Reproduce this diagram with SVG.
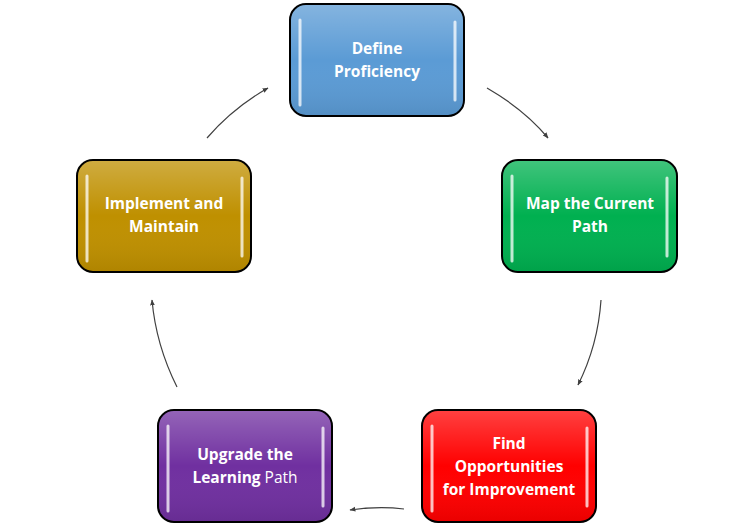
<svg xmlns="http://www.w3.org/2000/svg" width="755" height="531" viewBox="0 0 755 531">
<defs>
<marker id="ah" viewBox="0 0 10 10" refX="9" refY="5" markerWidth="5" markerHeight="5" orient="auto"><path d="M0,1 L10,5 L0,9 z" fill="#404040"/></marker>
<linearGradient id="sh" x1="0" y1="0" x2="0" y2="1"><stop offset="0" stop-color="#fff" stop-opacity="0.25"/><stop offset="0.5" stop-color="#fff" stop-opacity="0"/><stop offset="1" stop-color="#000" stop-opacity="0.08"/></linearGradient>
</defs>
<style>
.box{stroke:#000;stroke-width:2}
.hl{stroke:#fff;stroke-opacity:0.75;stroke-width:3;fill:none;stroke-linecap:round}
.t{font-family:"Open Sans","Liberation Sans",sans-serif;font-weight:bold;font-size:15.5px;fill:#fff;text-anchor:middle}
.c{fill:none;stroke:#404040;stroke-width:1.2;marker-end:url(#ah)}
</style>
<rect width="755" height="531" fill="#fff"/>
<g id="connectors">
<path class="c" d="M487,88 Q525,110 548,138"/>
<path class="c" d="M601,300 Q598,345 578,385"/>
<path class="c" d="M404,509 Q378,506 350,510"/>
<path class="c" d="M177,387 Q156,345 152,300"/>
<path class="c" d="M207,138 Q233,108 268,88"/>
</g>
<g id="define">
<rect class="box" x="290" y="4" width="174" height="112" rx="16" fill="#5b9bd5"/>
<rect x="291" y="5" width="172" height="110" rx="15" fill="url(#sh)"/>
<path class="hl" d="M300,20 V105 M455,22 V100"/>
<text class="t" x="377" y="54">Define</text><text class="t" x="377" y="77">Proficiency</text>
</g>
<g id="map">
<rect class="box" x="502" y="160" width="175" height="112" rx="16" fill="#00b050"/>
<rect x="503" y="161" width="173" height="110" rx="15" fill="url(#sh)"/>
<path class="hl" d="M512,176 V261 M667,178 V256"/>
<text class="t" x="590" y="209">Map the Current</text><text class="t" x="590" y="232">Path</text>
</g>
<g id="find">
<rect class="box" x="422" y="410" width="174" height="112" rx="16" fill="#ff0000"/>
<rect x="423" y="411" width="172" height="110" rx="15" fill="url(#sh)"/>
<path class="hl" d="M432,426 V511 M587,428 V506"/>
<text class="t" x="509" y="449">Find</text><text class="t" x="509" y="472">Opportunities</text><text class="t" x="509" y="495">for Improvement</text>
</g>
<g id="upgrade">
<rect class="box" x="158" y="410" width="174" height="112" rx="16" fill="#7030a0"/>
<rect x="159" y="411" width="172" height="110" rx="15" fill="url(#sh)"/>
<path class="hl" d="M168,426 V511 M323,428 V506"/>
<text class="t" x="245" y="460">Upgrade the</text><text class="t" x="245" y="483">Learning <tspan font-weight="normal">Path</tspan></text>
</g>
<g id="implement">
<rect class="box" x="77" y="160" width="174" height="112" rx="16" fill="#bf9000"/>
<rect x="78" y="161" width="172" height="110" rx="15" fill="url(#sh)"/>
<path class="hl" d="M87,176 V261 M242,178 V256"/>
<text class="t" x="164" y="209">Implement and</text><text class="t" x="164" y="232">Maintain</text>
</g>
</svg>
